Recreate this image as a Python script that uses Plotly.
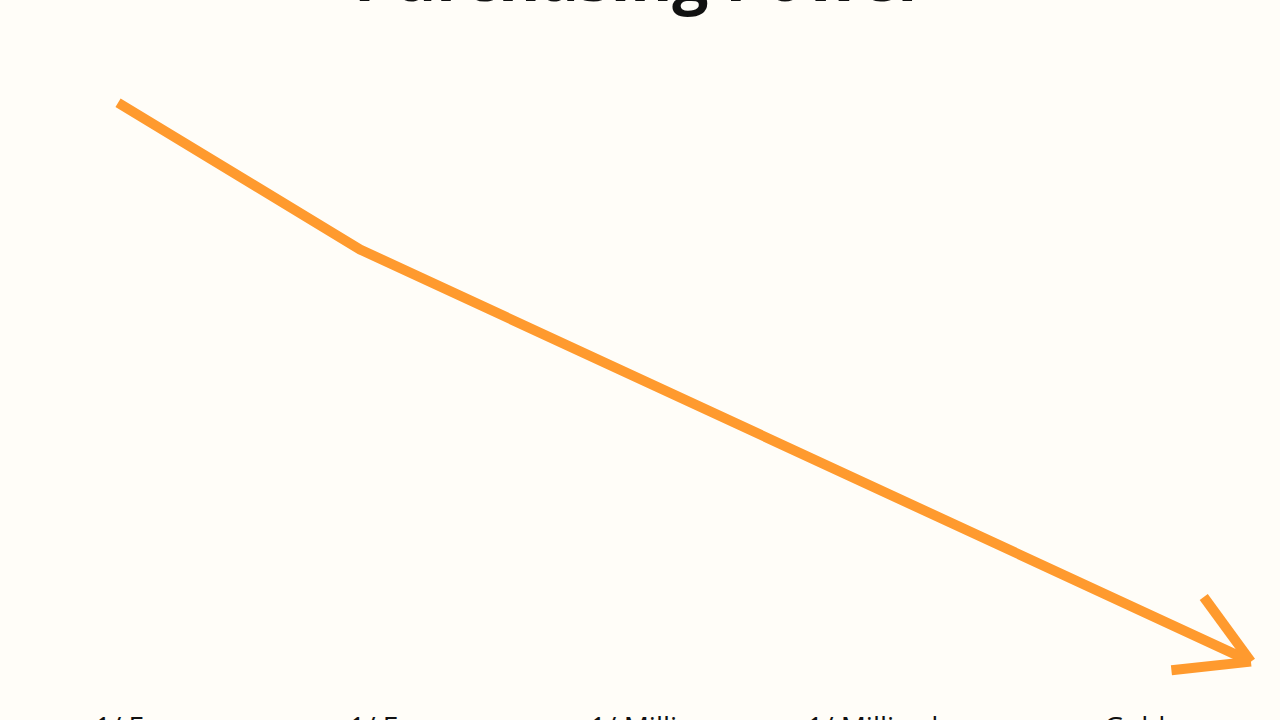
import math
import plotly.graph_objects as go

# purchasing power over time (index, start = 100)
steps = [0, 1, 4.68]
power = [100, 75, 4.8]

labels = ["1/ Euro", "1/ Euro", "1/ Million", "1/ Milliarde", "Gold"]
label_pos = [0.1, 1.15, 2.2, 3.15, 4.2]

title = "Purchasing Power"

W, H = 1280, 720
mb = 12
x_range = [-0.4876, 4.80]
y_range = [-3.1, 117.5]

orange = "#FF9A2E"
bg = "#FFFDF8"

# pixels per data unit, needed to keep the arrow head in proportion
sx = W / (x_range[1] - x_range[0])
sy = (H - mb) / (y_range[1] - y_range[0])

# open arrow head at the end of the last segment
dx = (steps[-1] - steps[-2]) * sx
dy = (power[-1] - power[-2]) * sy
back = math.atan2(-dy, -dx)
head_len = 80
head_x, head_y = [], []
for a in (math.radians(31), math.radians(-29)):
    head_x += [steps[-1] + head_len * math.cos(back + a) / sx, steps[-1], None]
    head_y += [power[-1] + head_len * math.sin(back + a) / sy, power[-1], None]

fig = go.Figure()
fig.add_trace(go.Scatter(x=steps, y=power, mode="lines",
                         line=dict(color=orange, width=10), hoverinfo="skip"))
fig.add_trace(go.Scatter(x=head_x, y=head_y, mode="lines",
                         line=dict(color=orange, width=10), hoverinfo="skip"))

fig.add_annotation(text="<b>" + title + "</b>", xref="paper", yref="paper",
                   x=0.5, y=1, xanchor="center", yanchor="bottom", yshift=-22,
                   showarrow=False,
                   font=dict(family="Open Sans", size=64, color="#111111"))

fig.update_layout(
    width=W, height=H,
    margin=dict(l=0, r=0, t=0, b=mb, autoexpand=False),
    paper_bgcolor=bg, plot_bgcolor=bg,
    showlegend=False,
    xaxis=dict(range=x_range, tickvals=label_pos, ticktext=labels,
               showgrid=False, zeroline=False, showline=False,
               automargin=False,
               tickfont=dict(family="Open Sans", size=28, color="#111111")),
    yaxis=dict(range=y_range, visible=False, automargin=False),
)

fig.write_html("out.html", config={"displayModeBar": False},
               post_script="document.body.style.margin='0';")
